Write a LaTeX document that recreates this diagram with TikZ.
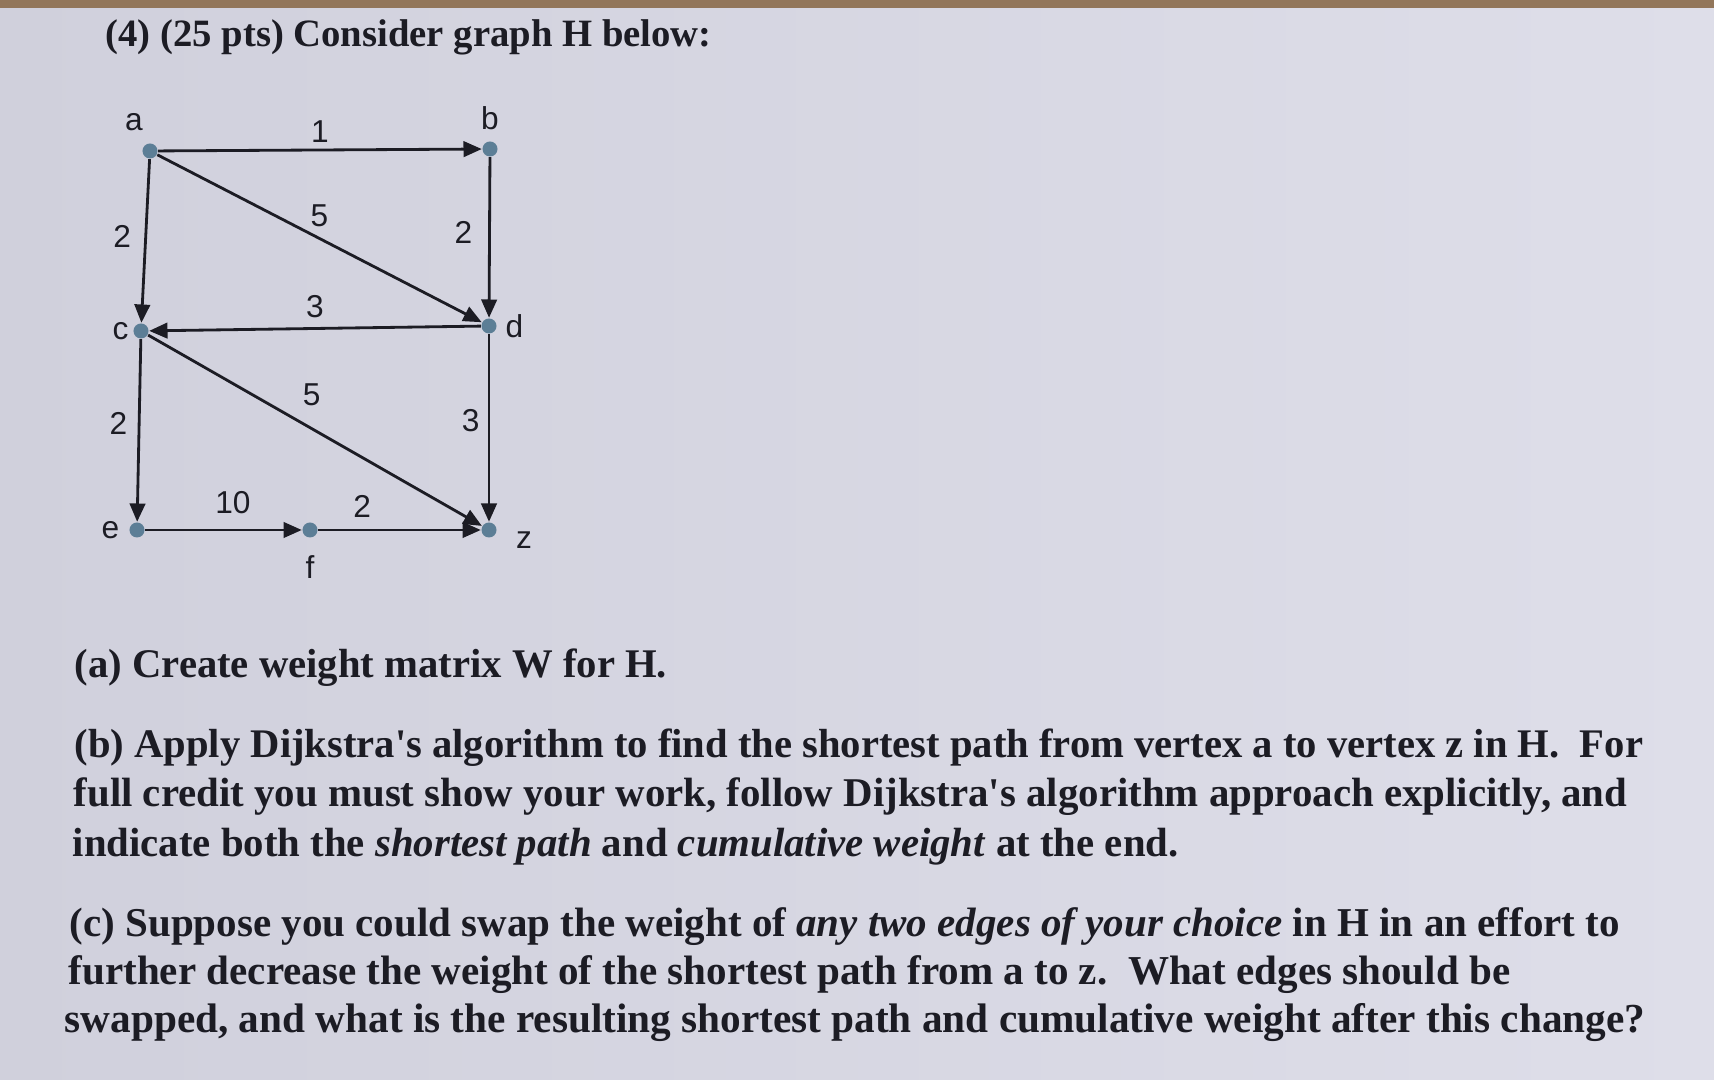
\documentclass[tikz,border=0pt]{standalone}
\usepackage{fontspec}
\setmainfont{Liberation Serif}
\newfontfamily\graphfont{Liberation Sans}
\usepackage{textcomp}
\usetikzlibrary{arrows.meta, positioning}

\definecolor{paperL}{RGB}{208,208,220}
\definecolor{paperR}{RGB}{222,222,233}
\definecolor{wood}{RGB}{146,118,90}
\definecolor{ink}{RGB}{28,28,36}
\definecolor{dotblue}{RGB}{92,126,150}

\begin{document}
\begin{tikzpicture}[x=0.01cm, y=-0.01cm,
    vtx/.style={circle, fill=dotblue, minimum size=0.15cm, inner sep=0pt},
    edge/.style={-{Triangle[length=5.2pt,width=4.4pt]}, line width=0.8pt, draw=ink},
    wt/.style={font=\graphfont\fontsize{9}{10}\selectfont, text=ink, inner sep=1.5pt},
    vname/.style={font=\graphfont\fontsize{9}{10}\selectfont, text=ink, inner sep=1pt},
    qline/.style={anchor=base west, inner sep=0pt, text=ink, font=\bfseries\fontsize{#1}{14}\selectfont},
    qline/.default=11.6]
    % paper
    \fill[left color=paperL, right color=paperR] (0,0) rectangle (1714,1080);
    \fill[wood] (0,0) rectangle (1714,8);

    % graph H
    \node[vtx] (a) at (150,151) {};
    \node[vtx] (b) at (490,149) {};
    \node[vtx] (c) at (141,331) {};
    \node[vtx] (d) at (489,326) {};
    \node[vtx] (e) at (137,530) {};
    \node[vtx] (f) at (310,530) {};
    \node[vtx] (z) at (489,530) {};
    \node[vname, above left=3pt and -0.8pt of a] (la) {a};
    \node[vname, above=2pt of b] (lb) {b};
    \node[vname, left=0pt of c] (lc) {c};
    \node[vname, right=1.2pt of d] (ld) {d};
    \node[vname, left=1.5pt of e] (le) {e};
    \node[vname, below=3.8pt of f] (lf) {f};
    \node[vname, right=4.2pt of z, yshift=-2.8pt] (lz) {z};

    \draw[edge] (a) -- node[wt, above=0.3pt] {1} (b);
    \draw[edge] (a) -- node[wt, pos=0.47, left=2.3pt] {2} (c);
    \draw[edge] (a) -- node[wt, above=1.3pt] {5} (d);
    \draw[edge] (b) -- node[wt, pos=0.47, left=3pt] {2} (d);
    \draw[edge] (d) -- node[wt, above=1.2pt] {3} (c);
    \draw[edge] (c) -- node[wt, pos=0.49, above=4.6pt] {5} (z);
    \draw[edge] (c) -- node[wt, pos=0.46, left=1.5pt] {2} (e);
    \draw[edge] (d) -- node[wt, pos=0.46, left=0.8pt] {3} (z);
    \draw[edge] (e) -- node[wt, pos=0.56, above=2.6pt] {10} (f);
    \draw[edge] (f) -- node[wt, pos=0.27, above=1.6pt] {2} (z);

    % question text
    \node[qline=11] (title) at (105,47) {(4) (25 pts) Consider graph H below:};
    \node[qline=11.57] (qa) at (74,678) {(a) Create weight matrix W for H.};
    \node[qline=11.55] (qb1) at (74,758) {(b) Apply Dijkstra\textquotesingle s algorithm to find the shortest path from vertex a to vertex z in H.\ \ For};
    \node[qline=11.62] (qb2) at (73,807) {full credit you must show your work, follow Dijkstra\textquotesingle s algorithm approach explicitly, and};
    \node[qline=11.6] (qb3) at (72,857) {indicate both the \textit{shortest path} and \textit{cumulative weight} at the end.};
    \node[qline=11.66] (qc1) at (69,937) {(c) Suppose you could swap the weight of \textit{any two edges of your choice} in H in an effort to};
    \node[qline=11.68] (qc2) at (68,985) {further decrease the weight of the shortest path from a to z.\ \ What edges should be};
    \node[qline=11.73] (qc3) at (64,1033) {swapped, and what is the resulting shortest path and cumulative weight after this change?};
\end{tikzpicture}
\end{document}
